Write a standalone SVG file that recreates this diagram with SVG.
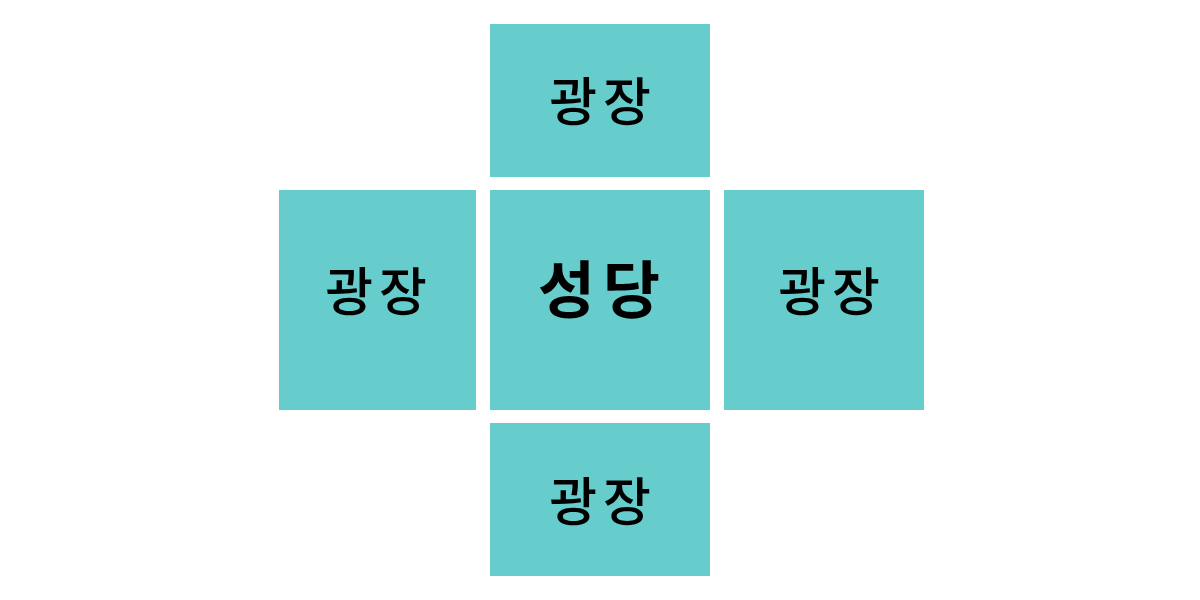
<svg xmlns="http://www.w3.org/2000/svg" width="1200" height="600" viewBox="0 0 1200 600">
<style>
.box{fill:#66CCCC}
.t{font-family:"Noto Sans CJK KR","Noto Sans",sans-serif;font-size:52px;font-weight:500;fill:#000;text-anchor:middle;dominant-baseline:central;letter-spacing:6px}
.c{font-size:62px;font-weight:bold;letter-spacing:8px}
</style>
<rect width="1200" height="600" fill="#fff"/>
<g id="connectors"></g>
<g id="top"><rect class="box" x="490" y="24" width="220" height="153"/><text class="t" x="603" y="98">광장</text></g>
<g id="left"><rect class="box" x="279" y="190" width="197" height="220"/><text class="t" x="379" y="288">광장</text></g>
<g id="center"><rect class="box" x="490" y="190" width="220" height="220"/><text class="t c" x="603" y="286">성당</text></g>
<g id="right"><rect class="box" x="724" y="190" width="200" height="220"/><text class="t" x="832" y="288">광장</text></g>
<g id="bottom"><rect class="box" x="490" y="423" width="220" height="153"/><text class="t" x="603" y="498">광장</text></g>
</svg>
